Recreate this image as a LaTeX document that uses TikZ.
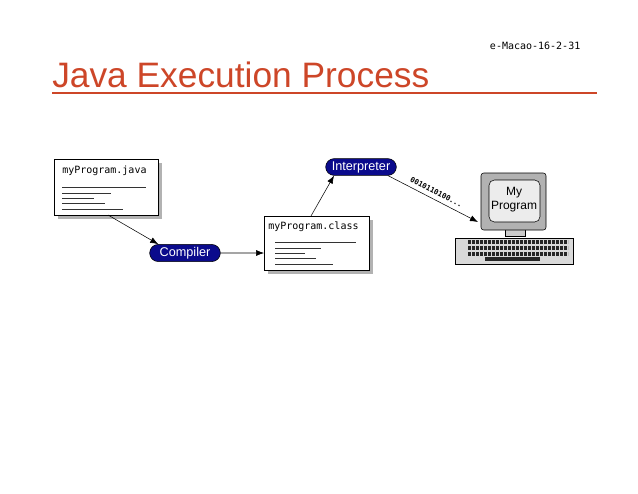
\documentclass[tikz,border=0pt]{standalone}
\usepackage{fontspec}
\setmainfont{Liberation Sans}
\newfontfamily\dvmono{DejaVu Sans Mono}
\usetikzlibrary{shapes.misc,arrows.meta}
\definecolor{ttl}{RGB}{205,70,40}
\definecolor{navy}{RGB}{10,10,140}
\begin{document}
\begin{tikzpicture}[x=0.75pt,y=-0.75pt,
  pill/.style={rounded rectangle,fill=navy,draw=black,text=white,font=\fontsize{9.5}{10}\selectfont,minimum height=12.5pt,inner sep=2pt},
  arr/.style={-{Latex[length=6pt,width=4.5pt]},thin},
  tl/.style={draw=black!80,thin}]
\useasboundingbox (0,0) rectangle (638,493);
\node[anchor=east,font=\fontsize{7.5}{9}\selectfont\dvmono] (hdr) at (585,46) {e-Macao-16-2-31};
\node[anchor=base west,text=ttl,font=\fontsize{26.5}{30}\selectfont,inner sep=0] (ttl) at (52,87) {Java Execution Process};
\draw[ttl,line width=1.5pt] (52,93) -- (597,93);
% java box
\fill[gray!60] (58,163) rectangle (162,219);
\draw[fill=white] (54,159) rectangle (158,215);
\node[anchor=west,font=\fontsize{7.5}{8}\selectfont\dvmono,inner sep=0] (jt) at (62,171) {myProgram.java};
\foreach \y/\e in {187/146,193/111,198/94,203/105,209/123}\draw[tl] (62,\y) -- (\e,\y);
\coordinate (jb) at (108,215);
% class box
\fill[gray!60] (268,220) rectangle (373,274);
\draw[fill=white] (264,216) rectangle (369,270);
\node[anchor=west,font=\fontsize{7.5}{8}\selectfont\dvmono,inner sep=0] (ct) at (268,227) {myProgram.class};
\foreach \y/\e in {242/356,248/321,253/305,258/316,264/333}\draw[tl] (275,\y) -- (\e,\y);
\coordinate (cl) at (264,253);
\coordinate (ctop) at (311,216);
% pills
\node[pill,minimum width=57pt] (comp) at (185,253) {Compiler};
\node[pill,minimum width=57pt] (interp) at (361,167) {Interpreter};
% computer
\coordinate (pc) at (478,222);
\draw[fill=gray!30] (455,238) rectangle (573,264);
\foreach \y in {242,248,254}{\draw[line width=3pt,dash pattern=on 2pt off 1pt,black!85] (468,\y) -- (568,\y);}
\draw[line width=3pt,black!85] (485,259) -- (540,259);
\draw[fill=gray!40] (505,228) rectangle (525,236);
\draw[fill=gray!60,rounded corners=2pt] (481,173) rectangle (546,230);
\draw[fill=gray!15,rounded corners=4pt] (489,180) rectangle (540,222);
\node[align=center,font=\fontsize{9}{10.5}\selectfont,inner sep=0] (myp) at (514,200) {My\\Program};
% connectors
\draw[arr] (jb) -- (comp.north west);
\draw[arr] (comp) -- (cl);
\draw[arr] (ctop) -- (interp.south west);
\draw[arr] (interp.south east) -- node[sloped,above,font=\fontsize{5.5}{6}\selectfont\bfseries\dvmono] {0010110100...} (pc);
\end{tikzpicture}
\end{document}
